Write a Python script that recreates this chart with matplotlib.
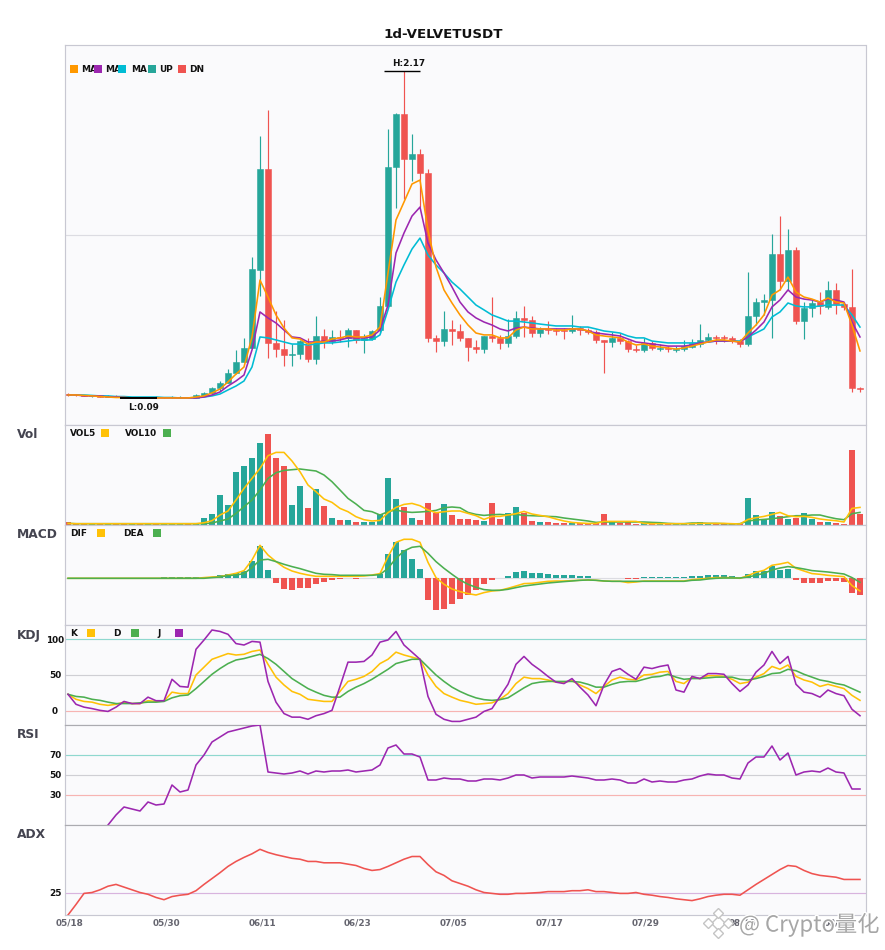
import matplotlib
matplotlib.use("Agg")
import matplotlib.pyplot as plt
import matplotlib.patheffects as pe
from matplotlib.lines import Line2D
from matplotlib.patches import Rectangle

dates = ["05/18", "05/30", "06/11", "06/23", "07/05", "07/17", "07/29", "08/10", "08/22"]
date_idx = [0, 12, 24, 36, 48, 60, 72, 84, 96]

opens = [.112,.109,.106,.103,.106,.099,.103,.096,.093,.096,
.093,.096,.093,.096,.094,.096,.090,.103,.122,.153,
.185,.249,.319,.408,.904,1.546,.440,.401,.365,.370,
.427,.338,.484,.452,.478,.472,.522,.459,.465,.522,
.675,1.559,1.896,1.610,1.642,1.521,.472,.452,.529,.516,
.472,.414,.401,.484,.472,.440,.484,.599,.586,.503,
.529,.522,.522,.516,.535,.522,.510,.459,.446,.472,
.452,.401,.395,.440,.401,.408,.395,.401,.414,.433,
.459,.478,.478,.472,.452,.433,.611,.700,.713,1.006,
.834,1.031,.579,.662,.700,.669,.777,.688,.669,.153]
closes = [.106,.106,.103,.106,.099,.103,.096,.093,.096,.093,
.096,.093,.096,.097,.096,.094,.109,.122,.153,.185,
.249,.319,.408,.910,1.546,.440,.401,.363,.370,.452,
.338,.484,.446,.478,.472,.522,.459,.472,.516,.675,
1.559,1.896,1.610,1.642,1.521,.472,.452,.529,.516,.472,
.414,.401,.484,.472,.440,.484,.599,.586,.503,.529,
.522,.516,.516,.535,.522,.510,.459,.446,.472,.452,
.401,.395,.440,.408,.408,.401,.401,.420,.440,.459,
.478,.472,.472,.452,.433,.611,.700,.713,1.006,.834,
1.031,.579,.662,.694,.675,.777,.688,.669,.153,.147]
highs = [.12,.112,.109,.109,.109,.106,.106,.10,.099,.099,
.099,.103,.099,.10,.103,.099,.112,.128,.160,.198,
.274,.395,.472,.986,1.756,1.921,.643,.586,.433,.459,
.472,.611,.529,.522,.522,.535,.522,.497,.522,.732,
1.801,1.902,2.17,1.769,1.673,1.546,.491,.643,.586,.560,
.472,.459,.484,.732,.491,.592,.643,.675,.611,.541,
.579,.535,.535,.618,.548,.535,.522,.459,.510,.503,
.459,.427,.472,.452,.433,.420,.420,.459,.465,.560,
.503,.491,.491,.484,.465,.891,.725,.751,1.133,1.247,
1.165,1.050,.700,.713,.764,.834,.821,.700,.910,.160]
lows = [.10,.103,.10,.099,.096,.096,.093,.09,.09,.09,
.09,.09,.091,.092,.091,.092,.09,.10,.115,.134,
.185,.242,.319,.408,.738,.344,.351,.293,.293,.338,
.319,.306,.408,.433,.446,.414,.440,.376,.459,.503,
.675,1.298,1.355,1.470,1.304,.446,.382,.420,.427,.452,
.325,.376,.376,.446,.401,.414,.472,.478,.478,.478,
.497,.491,.465,.503,.491,.497,.440,.249,.414,.433,
.382,.382,.382,.395,.389,.382,.382,.389,.408,.414,
.446,.433,.446,.440,.414,.420,.554,.618,.472,.777,
.777,.560,.465,.605,.624,.656,.624,.650,.128,.128]

ma5 = [.109,.109,.106,.103,.099,.096,.093,.093,.090,.090,
.090,.090,.090,.090,.090,.090,.096,.103,.122,.147,
.192,.242,.287,.478,.840,.732,.618,.535,.472,.465,
.433,.446,.446,.465,.472,.484,.478,.478,.491,.541,
.885,1.222,1.336,1.451,1.476,1.158,.923,.777,.694,.618,
.554,.503,.491,.491,.472,.472,.522,.541,.529,.529,
.529,.522,.522,.529,.529,.516,.491,.484,.478,.472,
.446,.427,.433,.420,.414,.408,.401,.408,.420,.433,
.446,.459,.459,.452,.446,.503,.554,.618,.745,.777,
.859,.764,.732,.719,.700,.726,.700,.694,.554,.389]
ma10 = [.109,.109,.103,.103,.103,.096,.096,.093,.090,.090,
.090,.090,.090,.090,.090,.090,.090,.096,.109,.128,
.166,.198,.236,.395,.637,.599,.567,.522,.478,.472,
.446,.446,.452,.452,.459,.472,.472,.472,.478,.522,
.681,1.012,1.139,1.247,1.304,1.075,.968,.885,.796,.700,
.637,.599,.573,.554,.529,.516,.535,.541,.535,.529,
.529,.529,.529,.529,.529,.516,.503,.497,.491,.484,
.465,.446,.440,.433,.427,.420,.420,.420,.427,.440,
.446,.452,.452,.452,.446,.478,.522,.573,.669,.713,
.777,.732,.719,.713,.700,.719,.713,.700,.573,.478]
ma20 = [.109,.109,.109,.106,.103,.103,.099,.099,.096,.096,
.096,.096,.093,.093,.090,.090,.093,.096,.103,.115,
.141,.166,.198,.287,.478,.472,.459,.446,.433,.433,
.427,.433,.440,.440,.446,.452,.459,.459,.459,.491,
.650,.827,.936,1.037,1.107,.999,.936,.885,.827,.783,
.732,.681,.650,.618,.599,.579,.579,.573,.567,.560,
.554,.548,.548,.548,.541,.541,.529,.516,.510,.503,
.484,.472,.472,.452,.446,.440,.440,.440,.440,.440,
.446,.452,.452,.452,.452,.478,.503,.529,.605,.637,
.694,.675,.669,.669,.675,.681,.681,.681,.618,.541]

volume = [2.7,1,.5,.5,.5,.5,.5,.5,.5,.5,
.5,.5,.5,.5,.5,.5,.7,6.7,10.7,29.7,
19.7,52.7,58.7,66.7,81.7,90.7,66.7,58.7,19.7,38.7,
16.7,35.7,18.7,6.7,4.7,4.7,2.7,2.7,2.7,10.7,
46.7,25.7,17.7,6.7,4.7,21.7,11.7,20.7,9.7,5.7,
5.7,4.7,3.7,21.7,5.7,11.7,17.7,11.7,3.7,2.7,
2.7,1.7,1.7,1.7,1.3,1.3,1.3,10.7,2.7,2,
2.7,.7,1.7,1.3,1,.7,.7,1,1,2.7,
1.7,1,1,1,.7,26.7,9.7,4.7,12.7,8.7,
5.7,6.7,11.7,5.7,2.7,2.7,1.7,.7,74.7,10.7]
vol5 = [1.3,1,1,1,1,1,1,1,1,1,
1,1,1,1,1,1,1,2,4,9.7,
13.7,24.7,36.3,46.3,56.3,69,72.3,72.3,63.7,53,
39.7,33,25.7,22.3,16.3,13,8,5,3.7,4.3,
12,17.3,20.3,21.3,19,14.7,12,13,13.7,13.7,
11.3,9,5.3,8.3,8.3,9.7,11,13.3,10.7,9.3,
8,5.7,3.7,2.3,1.7,1.3,1.3,3.3,3.3,3.3,
3.3,3.3,1.3,1,1,1,1,1,1,1.3,
1.3,1.3,1.3,1,.7,5.3,7,8.3,10.3,12.3,
9,8,8.3,7.3,5.7,4.7,4,2.7,16.3,17.3]
vol10 = [1.3,1,1,1,1,1,1,1,1,1,
1,1,1,1,1,1,1,1,1.7,3.7,
5.7,11.3,18,24.7,34.7,46.3,52,54.3,55,55.7,
54.7,53.7,49.7,43,34.7,26.3,20.7,14.3,13,9.7,
13,14.7,13,12.3,12.7,13.3,14.3,17,17.7,17,
12.3,10.3,9.3,10,10.3,9.7,10.3,9.3,9,8.7,
8.3,8,6.7,5.7,4.7,3.7,2.3,2.7,2.7,2.7,
2.7,2.7,2.7,2.3,2,1.3,1,1,1.7,1.7,
1.3,1.3,1,.7,1,3.7,4.7,5.3,6,7,
8,9,9,9.7,9.7,7.7,6,5,11,12.3]

macd_hist = [0,0,0,0,0,0,0,0,0,0,
0,0,.012,.012,.012,.012,.012,.003,.01,.03,
.04,.053,.073,.173,.323,.083,-.043,-.103,-.113,-.093,
-.093,-.053,-.033,-.017,-.007,0,-.004,0,0,.043,
.243,.363,.283,.193,.093,-.213,-.313,-.303,-.253,-.203,
-.163,-.113,-.053,-.013,0,.023,.063,.073,.053,.053,
.043,.033,.033,.033,.023,.023,0,0,0,0,
-.007,-.007,.01,.01,.01,.01,.01,.01,.023,.023,
.033,.033,.033,.02,0,.043,.073,.073,.123,.083,
.093,-.017,-.047,-.047,-.047,-.027,-.027,-.037,-.147,-.167]
dif = [0,0,0,0,0,0,0,0,0,0,
0,0,0,0,0,0,0,.007,.013,.017,
.033,.05,.077,.183,.33,.233,.167,.11,.073,.05,
.033,.02,.02,.02,.02,.02,.02,.023,.033,.047,
.217,.36,.39,.39,.36,.16,.007,-.06,-.107,-.133,
-.153,-.167,-.143,-.127,-.12,-.1,-.077,-.053,-.05,-.04,
-.03,-.027,-.027,-.023,-.02,-.017,-.02,-.027,-.03,-.03,
-.043,-.037,-.027,-.027,-.027,-.027,-.027,-.027,-.013,-.007,
0,.007,.007,.007,0,.027,.06,.08,.13,.143,
.16,.1,.073,.047,.04,.03,.023,.017,-.073,-.127]
dea = [0,0,0,0,0,0,0,0,0,0,
0,0,0,0,0,0,0,0,.007,.013,
.027,.033,.047,.107,.183,.19,.167,.14,.117,.097,
.073,.05,.04,.037,.03,.03,.03,.03,.03,.037,
.1,.2,.273,.31,.32,.25,.167,.1,.04,-.017,
-.06,-.09,-.113,-.12,-.12,-.11,-.093,-.077,-.067,-.057,
-.047,-.04,-.033,-.027,-.02,-.017,-.02,-.027,-.03,-.03,
-.03,-.03,-.03,-.03,-.03,-.03,-.03,-.03,-.02,-.017,
-.007,0,.003,.003,.003,.013,.03,.05,.083,.103,
.117,.107,.093,.077,.07,.063,.053,.043,.007,-.04]

kdj_k = [23,16,13,12,9,7.5,9,12,10,10,
14,13,13.5,26,24,24,50,61,72,76,
80,78,79,83,85,65,47,36,27,23,
16,14.5,13,13,27,41,44,48,55,66,
72,82,78,75,72,50,34,24,19,14.5,
12,9,10,11,16,24,38,47,45,45,
43,40,40,42,36,31,24,34,43,47,
44,43,50,51,54,55,41,38,47,45,
49,49,48,44,38,40,47,52,62,58,
64,48,43,40,34,37,34,31,21.5,14.5]
kdj_d = [23,20,19,16,14.5,12,10,10,10,11,
12,12,13,18,21,22,31,41,51,59,
66,71,73,76,79,73,65,55,45,38,
31,26,21.5,19,19,27,33,38,44,51,
58,66,69,72,72,61,50,41,33,27,
22,18,15.5,14.5,15.5,18,25,32,38,40,
41,41,41,41,40,37,33,33,37,40,
41,41,44,47,48,51,47,44,45,45,
46,47,47,47,44,43,45,48,52,53,
58,56,51,47,43,41,38,36,31,26]
kdj_j = [23,9,5,3,.5,-1,5,13,10,10,
19,14,14,44,34,33,86,99,113,111,
107,94,92,97,96,41,12,-4,-9,-9,
-12,-7,-4,.5,34,68,68,69,78,96,
99,111,92,82,72,20,-5,-12,-15,-15,
-12,-9,-1,3,20,37,65,76,65,57,
48,40,38,45,33,22,7,36,55,59,
51,44,61,59,62,64,29,26,48,45,
52,52,51,38,27,36,54,64,83,66,
76,37,26,24,19,29,24,21,2,-7]

rsi = [None,None,None,None,None,0,10,18,16,14,
23,20,21,40,33,35,60,70,83,88,
93,95,97,99,100,53,52,51,52,54,
51,54,53,54,54,55,53,54,55,60,
77,80,71,71,68,45,45,47,46,46,
44,44,46,46,45,47,50,50,47,48,
48,48,48,49,48,47,45,45,46,45,
42,42,46,43,44,43,43,45,46,49,
51,50,50,47,46,62,68,68,79,65,
72,50,53,54,53,57,53,52,36,36]

adx = [0,11.7,24,25,28,32,34,31,28,25,
23,19.5,17,20.5,22,23,27,34,40.5,47,
54,59.5,64,68,73,69.5,67,65,63,62,
59.5,59.5,58,58,58,56.5,55,51.7,49.5,50.5,
54,58,62,65,65,56,48,44,38,35,
32,28,25,24,23,23,24,24,24.5,25,
26,26,26,27,27,28,26,26,25,24,
24,25,23,22,20.5,19.5,18,17,16,18,
20.5,22,23,23,22,28,34,39.5,45,50.5,
55,54,49.5,46,44,43,42,39.5,39.5,39.5]

x = list(range(len(opens)))
UP, DN = "#26A69A", "#EF5350"
ORANGE, PURPLE, CYAN = "#FF9800", "#9C27B0", "#00BCD4"
YELLOW, GREEN = "#FFC107", "#4CAF50"
BG, EDGE, EDGE2 = "#FAFAFC", "#C8C8D2", "#ABABB0"
LW = 1.15
W, H = 885, 950
fig = plt.figure(figsize=(W / 100, H / 100), dpi=100, facecolor="white")
plt.rcParams["font.family"] = ["DejaVu Sans"]


def panel(top, bottom, ymin, ymax, dark_top=False):
    ax = fig.add_axes([65 / W, 1 - bottom / H, 800.5 / W, (bottom - top) / H], facecolor=BG)
    ax.set_xlim(-0.375, 99.69)
    ax.set_ylim(ymin, ymax)
    ax.set_xticks([])
    ax.set_yticks([])
    for s in ax.spines.values():
        s.set_color(EDGE)
        s.set_linewidth(0.85)
    if dark_top:
        ax.spines["top"].set_color(EDGE2)
    return ax


def label(text, y):
    fig.text(17 / W, 1 - y / H, text, fontsize=8.8, fontweight="bold", color="#444450", va="center")


def square(px, py, color, z=5):
    fig.add_artist(Rectangle((px / W, 1 - (py + 8) / H), 8 / W, 8 / H, transform=fig.transFigure,
                             facecolor=color, edgecolor="none", zorder=z))


def ltext(px, py, text):
    fig.text(px / W, 1 - py / H, text, fontsize=6.4, fontweight="bold", color="#111111", va="center", zorder=4)


def yticks(ax, vals):
    ax.set_yticks(vals)
    ax.set_yticklabels([str(v) for v in vals], fontsize=6.4, fontweight="bold", color="#111111", ha="center")
    ax.tick_params(axis="y", length=0, pad=7.2)


colors = [UP if c >= o else DN for o, c in zip(opens, closes)]

# main
ax = panel(45, 425, -0.082, 2.335)
ax.axhline(1.126, color="#DCDCE2", lw=0.85, zorder=1)
ax.vlines(x, lows, highs, colors=colors, lw=0.85, zorder=2)
ax.bar(x, [c - o for o, c in zip(opens, closes)], bottom=opens, width=0.75, color=colors,
       edgecolor=colors, linewidth=0.4, zorder=2)
ax.plot(x, ma20, color=CYAN, lw=LW, zorder=3)
ax.plot(x, ma10, color=PURPLE, lw=LW, zorder=3)
ax.plot(x, ma5, color=ORANGE, lw=LW, zorder=3)
ax.hlines(max(highs), 39.5, 44, color="black", lw=1, zorder=4)
ax.text(40.55, max(highs) + 0.02, "H:2.17", fontsize=6.4, fontweight="bold", ha="left", va="bottom", color="#111111")
ax.hlines(min(lows), 6.5, 11.1, color="black", lw=1.4, zorder=4)
ax.text(9.4, min(lows) - 0.035, "L:0.09", fontsize=6.4, fontweight="bold", ha="center", va="top", color="#111111")
for px, t in [(81, "MA"), (105, "MA"), (131, "MA"), (159, "UP"), (189, "DN")]:
    ltext(px, 69, t)
for px, c in [(70, ORANGE), (94, PURPLE), (118, CYAN), (148, UP), (178, DN)]:
    square(px, 65, c)
fig.text(443 / W, 1 - 34.5 / H, "1d-VELVETUSDT", fontsize=9.6, fontweight="bold", ha="center", va="center",
         color="#111111")

# volume
ax = panel(425, 525, -0.3, 99.7)
ax.bar(x, volume, width=0.75, color=colors, zorder=2)
ax.plot(x, vol10, color=GREEN, lw=LW, zorder=3)
ax.plot(x, vol5, color=YELLOW, lw=LW, zorder=3)
label("Vol", 435)
ltext(70, 434, "VOL5"); square(101, 429, YELLOW)
ltext(125, 434, "VOL10"); square(163, 429, GREEN)

# macd
ax = panel(525, 625, -0.467, 0.533)
ax.axhline(0, color="#DCDCE2", lw=0.85, zorder=1)
ax.bar(x, macd_hist, width=0.75, color=[UP if v >= 0 else DN for v in macd_hist], zorder=2)
ax.plot(x, dif, color=YELLOW, lw=LW, zorder=3)
ax.plot(x, dea, color=GREEN, lw=LW, zorder=3)
label("MACD", 535)
ltext(70, 534, "DIF"); square(97, 529, YELLOW)
ltext(123, 534, "DEA"); square(153, 529, GREEN)

# kdj
ax = panel(625, 725, -20, 120)
ax.axhline(100, color="#8FD8CF", lw=0.85, zorder=1)
ax.axhline(50, color="#CFCFD4", lw=0.85, zorder=1)
ax.axhline(0, color="#F7B4B2", lw=0.85, zorder=1)
ax.plot(x, kdj_k, color=YELLOW, lw=LW, zorder=3)
ax.plot(x, kdj_d, color=GREEN, lw=LW, zorder=3)
ax.plot(x, kdj_j, color=PURPLE, lw=LW, zorder=3)
yticks(ax, [0, 50, 100])
label("KDJ", 635)
ltext(70, 634, "K"); square(87, 629, YELLOW)
ltext(113, 634, "D"); square(131, 629, GREEN)
ltext(157, 634, "J"); square(175, 629, PURPLE)

# rsi
ax = panel(725, 825, 0, 100, dark_top=True)
ax.axhline(70, color="#8FD8CF", lw=0.85, zorder=1)
ax.axhline(50, color="#CFCFD4", lw=0.85, zorder=1)
ax.axhline(30, color="#F7B4B2", lw=0.85, zorder=1)
ax.plot(x, [float("nan") if v is None else v for v in rsi], color=PURPLE, lw=LW, zorder=3)
yticks(ax, [30, 50, 70])
label("RSI", 735)

# adx
ax = panel(825, 915, 0, 100, dark_top=True)
ax.axhline(25, color="#D8B4DE", lw=0.85, zorder=1)
ax.plot(x, adx, color=DN, lw=LW, zorder=3)
yticks(ax, [25])
label("ADX", 835)
ax.set_xticks([i + 0.25 for i in date_idx])
ax.set_xticklabels(dates, fontsize=6.4, fontweight="bold", color="#666670")
ax.tick_params(axis="x", length=0, pad=2.5)

# watermark
halo = [pe.withStroke(linewidth=2, foreground="white")]
for dx, dy, s in [(718, 923, 7), (718, 913, 5), (718, 933, 5), (708, 923, 5), (728, 923, 5)]:
    fig.add_artist(Line2D([dx / W], [1 - dy / H], marker="D", markersize=s, markerfacecolor="white",
                          markeredgecolor="#C4C4C4", markeredgewidth=1, transform=fig.transFigure, zorder=9))
fig.text(739 / W, 1 - 925 / H, "@ Crypto量化", fontsize=16, color="#A6A6A6", va="center",
         family=["Noto Sans CJK SC", "DejaVu Sans"], zorder=9, path_effects=halo)

fig.savefig("out.png", dpi=100, facecolor="white")
